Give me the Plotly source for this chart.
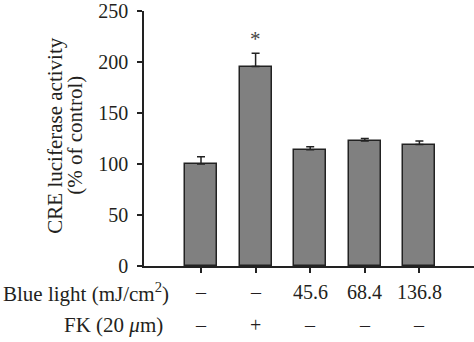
import plotly.graph_objects as go

categories = ["ctrl", "FK", "45.6", "68.4", "136.8"]
values = [100, 195.5, 114, 122.5, 119]
errors = [7, 13, 3, 2.5, 3.5]
blue_light = ["–", "–", "45.6", "68.4", "136.8"]
fk = ["–", "+", "–", "–", "–"]
y_ticks = [0, 50, 100, 150, 200, 250]
sig_marks = ["", "*", "", "", ""]

FONT = "Liberation Serif"
TXT = "#231f20"
xs = list(range(len(categories)))

fig = go.Figure()
fig.add_trace(go.Bar(
    x=xs, y=values, width=0.586,
    marker=dict(color="#808080", line=dict(color="#222222", width=1.5)),
    error_y=dict(type="data", symmetric=False, array=errors,
                 arrayminus=[0] * len(errors), color="#222222",
                 thickness=1.5, width=4),
    showlegend=False,
))

ann = []
for i, (b, f, s) in enumerate(zip(blue_light, fk, sig_marks)):
    ann.append(dict(x=i, y=-0.1025, xref="x", yref="paper", text=b,
                    xanchor="center", yanchor="middle",
                    showarrow=False, font=dict(family=FONT, size=20, color=TXT)))
    ann.append(dict(x=i, y=-0.232, xref="x", yref="paper", text=f,
                    xanchor="center", yanchor="middle",
                    showarrow=False, font=dict(family=FONT, size=20, color=TXT)))
    if s:
        ann.append(dict(x=i, y=values[i] + errors[i] + 14, xref="x", yref="y",
                        text=s, showarrow=False, yanchor="middle",
                        font=dict(family=FONT, size=21, color="#444444")))
ann.append(dict(x=(171 - 201) / 54.6, y=-0.1025, xref="x", yref="paper",
                text="Blue light (mJ/cm<sup>2</sup>)", xanchor="right", yanchor="middle",
                showarrow=False, font=dict(family=FONT, size=21, color=TXT)))
ann.append(dict(x=(165 - 201) / 54.6, y=-0.232, xref="x", yref="paper",
                text="FK (20 <i>μ</i>m)", xanchor="right", yanchor="middle",
                showarrow=False, font=dict(family=FONT, size=21, color=TXT)))
ann.append(dict(x=-0.2697, y=0.511, xref="paper", yref="paper",
                text="CRE luciferase activity", textangle=-90,
                xanchor="center", yanchor="middle",
                showarrow=False, font=dict(family=FONT, size=21, color=TXT)))
ann.append(dict(x=-0.209, y=0.511, xref="paper", yref="paper",
                text="(% of control)", textangle=-90,
                xanchor="center", yanchor="middle",
                showarrow=False, font=dict(family=FONT, size=21, color=TXT)))

fig.update_layout(
    width=474, height=342,
    margin=dict(l=144, r=0, t=11, b=75.5),
    plot_bgcolor="white", paper_bgcolor="white",
    bargap=0,
    annotations=ann,
    xaxis=dict(range=[-1.044, 5.0], tickvals=xs, showticklabels=False,
               showline=True, linecolor="#222222", linewidth=1.5,
               ticks="outside", ticklen=5, tickwidth=1.5, tickcolor="#222222",
               showgrid=False, zeroline=False, fixedrange=True),
    yaxis=dict(range=[0, 250], tickvals=y_ticks,
               showline=True, linecolor="#222222", linewidth=1.5,
               ticks="outside", ticklen=5, tickwidth=1.5, tickcolor="#222222",
               ticklabelstandoff=5,
               showgrid=False, zeroline=False,
               tickfont=dict(family=FONT, size=20, color=TXT)),
)

fig.write_html("out.html")
